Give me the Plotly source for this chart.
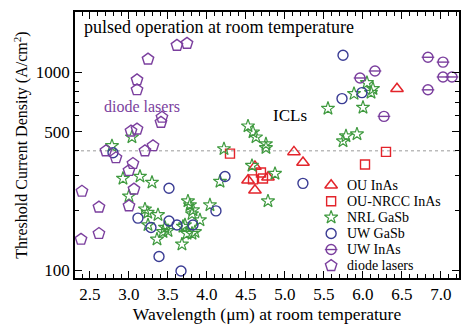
import math
import plotly.graph_objects as go

# Wavelength (um) and threshold current density (A/cm^2) per group
ou_inas_wl = [4.615, 4.526, 4.782, 4.615, 5.115, 5.231, 6.436]
ou_inas_j = [333, 284, 294, 253, 395, 349, 823]

ou_nrcc_wl = [4.295, 4.692, 4.59, 4.718, 6.295, 6.026]
ou_nrcc_j = [387, 311, 287, 290, 395, 341]

nrl_gasb_wl = [2.782, 3.038, 2.923, 3.141, 3.295, 3.0, 3.205, 3.24, 3.372, 3.244,
               3.462, 3.5, 3.436, 3.359, 3.679, 3.756, 3.782, 3.821, 3.808, 3.91,
               4.038, 3.692, 3.744, 3.808, 3.846, 3.718, 4.167, 4.218, 4.526, 4.59,
               4.628, 4.756, 4.756, 4.577, 4.872, 4.782, 5.551, 5.885, 6.051, 6.128,
               6.103, 6.0, 5.782, 5.744, 5.923]
nrl_gasb_j = [424, 469, 290, 297, 277, 236, 203, 195, 190, 169,
              164, 158, 156, 143, 135, 223, 213, 201, 192, 179,
              213, 166, 153, 153, 156, 169, 280, 409, 533, 497,
              469, 433, 414, 337, 307, 223, 654, 777, 882, 823,
              787, 662, 475, 448, 486]

uw_gasb_wl = [2.795, 3.513, 3.115, 3.282, 3.513, 3.615, 3.82, 3.385, 3.667,
              4.115, 4.231, 5.23, 5.744, 5.731, 5.987]
uw_gasb_j = [391, 259, 183, 164, 177, 169, 169, 117, 99,
             199, 297, 274, 1215, 734, 787]

uw_inas_wl = [6.833, 7.026, 7.026, 7.141, 6.833, 6.154, 5.962, 6.269]
uw_inas_j = [1187, 1122, 944, 944, 813, 1012, 933, 597]

diode_wl = [3.615, 3.744, 3.244, 3.103, 3.103, 3.423, 3.41, 3.026, 3.103, 2.705,
            2.833, 3.205, 3.308, 3.051, 3.0, 3.064, 2.397, 2.615, 3.0, 2.615, 2.385]
diode_j = [1362, 1394, 1161, 912, 813, 591, 557, 503, 515, 400,
           369, 400, 424, 345, 318, 256, 250, 208, 211, 153, 143]

reference_j = 400

x_tick_vals = [2.5, 3.0, 3.5, 4.0, 4.5, 5.0, 5.5, 6.0, 6.5, 7.0]
y_tick_vals = [100, 500, 1000]

legend_names = ["OU InAs", "OU-NRCC InAs", "NRL GaSb", "UW GaSb", "UW InAs", "diode lasers"]

RED = "#e3242b"
GREEN = "#3f9a3f"
BLUE = "#3a3c94"
PURPLE = "#7b3f9e"
SERIF = "Liberation Serif, Times New Roman, serif"

# (symbol, color, size, line width, optional overlay symbol) per group, legend order
styles = [
    ("triangle-up-open", RED, 11, 1.5, None),
    ("square-open", RED, 9, 1.4, None),
    ("star-open", GREEN, 10, 1.2, None),
    ("circle-open", BLUE, 10, 1.4, None),
    ("circle-open", PURPLE, 10, 1.4, "line-ew-open"),
    ("pentagon-open", PURPLE, 12, 1.4, None),
]
series = [
    (ou_inas_wl, ou_inas_j),
    (ou_nrcc_wl, ou_nrcc_j),
    (nrl_gasb_wl, nrl_gasb_j),
    (uw_gasb_wl, uw_gasb_j),
    (uw_inas_wl, uw_inas_j),
    (diode_wl, diode_j),
]

fig = go.Figure()


def markers(x, y, symbol, color, size, lw, xaxis="x", yaxis="y"):
    return go.Scatter(
        x=x, y=y, mode="markers", showlegend=False, hoverinfo="skip",
        xaxis=xaxis, yaxis=yaxis,
        marker=dict(symbol=symbol, size=size, color=color,
                    line=dict(color=color, width=lw)),
    )


for (x, y), (sym, col, size, lw, overlay) in zip(series, styles):
    fig.add_trace(markers(x, y, sym, col, size, lw))
    if overlay:
        fig.add_trace(markers(x, y, overlay, col, size - 1, lw))

# key box, drawn on an auxiliary 0..1 axis pair spanning the plot area
key_x = 0.667
key_text_x = 0.703
key_top = 0.349
key_step = 0.0605
for i, (name, (sym, col, size, lw, overlay)) in enumerate(zip(legend_names, styles)):
    ky = key_top - i * key_step
    fig.add_trace(markers([key_x], [ky], sym, col, size, lw, "x2", "y2"))
    if overlay:
        fig.add_trace(markers([key_x], [ky], overlay, col, size - 1, lw, "x2", "y2"))
    fig.add_annotation(x=key_text_x, y=ky, xref="x2", yref="y2", text=name,
                       showarrow=False, xanchor="left", yanchor="middle",
                       font=dict(family=SERIF, size=14, color="black"))

# dotted reference level across the plot
fig.add_shape(type="line", xref="paper", x0=0, x1=1, yref="y",
              y0=reference_j, y1=reference_j,
              line=dict(color="#9a9a9a", width=1, dash="dot"), layer="below")

fig.add_annotation(x=0.018, y=0.99, xref="paper", yref="paper",
                   text="pulsed operation at room temperature", showarrow=False,
                   xanchor="left", yanchor="top",
                   font=dict(family=SERIF, size=18, color="black"))
# annotations on a log axis are positioned in log10 units
fig.add_annotation(x=3.167, y=math.log10(670), text="diode lasers", showarrow=False,
                   font=dict(family=SERIF, size=16, color=PURPLE))
fig.add_annotation(x=5.06, y=math.log10(605), text="ICLs", showarrow=False,
                   font=dict(family=SERIF, size=17, color="black"))

axis_common = dict(
    showline=True, linecolor="black", linewidth=1.5, mirror="allticks",
    ticks="inside", tickcolor="black", tickwidth=1.2, ticklen=7,
    showgrid=False, zeroline=False,
    tickfont=dict(family=SERIF, size=17, color="black"),
)

fig.update_layout(
    xaxis=dict(
        range=[2.308, 7.231], tickvals=x_tick_vals,
        ticktext=[f"{v:.1f}" for v in x_tick_vals],
        minor=dict(dtick=0.1, ticks="inside", ticklen=4, tickcolor="black", tickwidth=1),
        title=dict(text="Wavelength (\u03bcm) at room temperature",
                   font=dict(family=SERIF, size=17.5, color="black"), standoff=0),
        **axis_common,
    ),
    yaxis=dict(
        type="log", range=[1.960, 3.303], tickvals=y_tick_vals,
        ticktext=[str(v) for v in y_tick_vals],
        minor=dict(tickvals=[200, 300, 400, 600, 700, 800, 900, 2000],
                   ticks="inside", ticklen=4, tickcolor="black", tickwidth=1),
        title=dict(text="Threshold Current Density (A/cm<sup>2</sup>)",
                   font=dict(family=SERIF, size=16, color="black"), standoff=4),
        **axis_common,
    ),
    xaxis2=dict(range=[0, 1], overlaying="x", visible=False, fixedrange=True),
    yaxis2=dict(range=[0, 1], overlaying="y", visible=False, fixedrange=True),
    width=474, height=326,
    margin=dict(l=75, r=15, t=10, b=46),
    paper_bgcolor="white", plot_bgcolor="white",
    showlegend=False,
)

fig.write_html("out.html")
